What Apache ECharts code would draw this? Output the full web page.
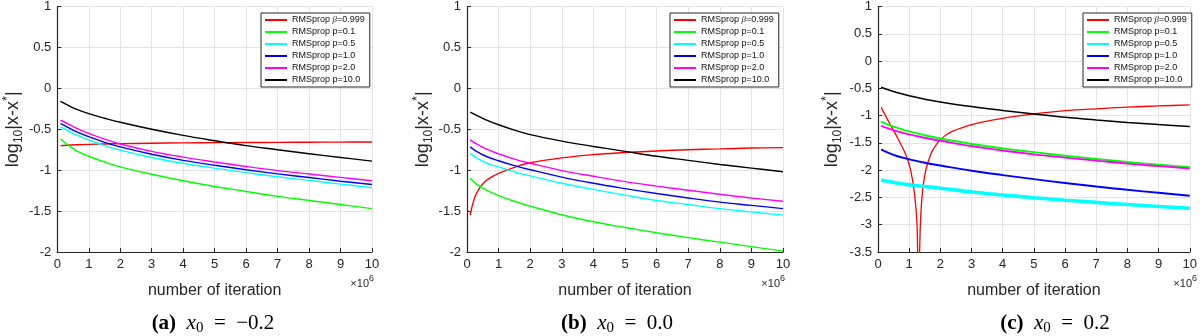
<!DOCTYPE html>
<html>
<head>
<meta charset="utf-8">
<script src="https://cdn.jsdelivr.net/npm/echarts@6/dist/echarts.min.js"></script>
<style>html,body{margin:0;padding:0;background:#fff;}#c{width:1200px;height:336px;}</style>
</head>
<body>
<div id="c"></div>
<script>
// iterations in units of 1e6
const iters = [0.1, 0.3, 0.6, 1, 1.5, 2, 3, 4, 5, 6, 7, 8, 9, 10];

// panel (a) x0 = -0.2
const aRed   = [-0.70, -0.695, -0.69, -0.685, -0.68, -0.676, -0.671, -0.667, -0.664, -0.662, -0.660, -0.658, -0.657, -0.656];
const aGreen = [-0.615, -0.68, -0.76, -0.83, -0.90, -0.96, -1.05, -1.13, -1.20, -1.26, -1.32, -1.37, -1.42, -1.47];
const aCyan  = [-0.47, -0.51, -0.57, -0.63, -0.70, -0.755, -0.845, -0.915, -0.975, -1.03, -1.08, -1.125, -1.17, -1.215];
const aBlue  = [-0.43, -0.47, -0.53, -0.59, -0.66, -0.715, -0.805, -0.88, -0.94, -0.995, -1.045, -1.09, -1.135, -1.175];
const aMag   = [-0.39, -0.425, -0.485, -0.55, -0.62, -0.68, -0.77, -0.84, -0.90, -0.955, -1.005, -1.047, -1.088, -1.13];
const aBlack = [-0.16, -0.20, -0.255, -0.31, -0.365, -0.415, -0.50, -0.575, -0.64, -0.70, -0.75, -0.80, -0.845, -0.89];

// panel (b) x0 = 0.0
const bRedX  = [0.1, 0.15, 0.2, 0.27, 0.35, 0.45, 0.6, 0.8, 1, 1.5, 2, 3, 4, 5, 6, 7, 8, 9, 10];
const bRed   = [-1.55, -1.46, -1.39, -1.31, -1.25, -1.19, -1.13, -1.08, -1.04, -0.965, -0.91, -0.85, -0.81, -0.785, -0.765, -0.75, -0.74, -0.73, -0.725];
const bGreen = [-1.10, -1.17, -1.24, -1.31, -1.38, -1.44, -1.545, -1.63, -1.70, -1.765, -1.825, -1.88, -1.935, -1.99];
const bCyan  = [-0.795, -0.85, -0.91, -0.96, -1.02, -1.07, -1.16, -1.235, -1.305, -1.37, -1.42, -1.47, -1.51, -1.55];
const bBlue  = [-0.715, -0.77, -0.83, -0.885, -0.945, -0.995, -1.085, -1.16, -1.225, -1.285, -1.34, -1.39, -1.43, -1.47];
const bMag   = [-0.63, -0.68, -0.74, -0.80, -0.865, -0.915, -1.005, -1.075, -1.14, -1.195, -1.245, -1.295, -1.34, -1.38];
const bBlack = [-0.29, -0.33, -0.385, -0.445, -0.51, -0.565, -0.645, -0.71, -0.77, -0.83, -0.88, -0.93, -0.975, -1.02];

// panel (c) x0 = 0.2
const cRedX  = [0.1, 0.37, 0.63, 0.84, 0.95, 1.05, 1.16, 1.25, 1.3, 1.36, 1.43, 1.53, 1.63, 1.74, 2.0, 2.38, 3.1, 4, 5, 6, 7, 8, 9, 10];
const cRed   = [-0.85, -1.14, -1.41, -1.65, -1.81, -2.01, -2.38, -2.98, -4.2, -2.98, -2.38, -2.01, -1.81, -1.65, -1.44, -1.29, -1.15, -1.05, -0.97, -0.91, -0.875, -0.845, -0.823, -0.805];
const cGreen = [-1.11, -1.16, -1.22, -1.29, -1.36, -1.42, -1.52, -1.60, -1.67, -1.735, -1.795, -1.85, -1.90, -1.945];
const cCyan  = [-2.18, -2.205, -2.235, -2.27, -2.30, -2.33, -2.40, -2.455, -2.505, -2.55, -2.59, -2.63, -2.665, -2.70];
const cBlue  = [-1.62, -1.675, -1.74, -1.80, -1.865, -1.915, -2.01, -2.09, -2.165, -2.235, -2.30, -2.36, -2.415, -2.47];
const cMag   = [-1.19, -1.23, -1.285, -1.345, -1.405, -1.46, -1.56, -1.64, -1.71, -1.77, -1.825, -1.88, -1.925, -1.97];
const cBlack = [-0.48, -0.52, -0.575, -0.635, -0.70, -0.75, -0.835, -0.905, -0.97, -1.03, -1.08, -1.125, -1.165, -1.20];

const seriesLabels = ['RMSprop β=0.999', 'RMSprop p=0.1', 'RMSprop p=0.5', 'RMSprop p=1.0', 'RMSprop p=2.0', 'RMSprop p=10.0'];
const colors = ['#ff0000', '#00ff00', '#00ffff', '#0000ff', '#ff00ff', '#000000'];
const yMins = [-2, -2, -3.5];
const yMax = 1;
const xTicksMax = 10;
const captions = [['(a)', '−0.2'], ['(b)', '0.0'], ['(c)', '0.2']];
const panelKeys = ['a', 'b', 'c'];

const panels = [
  {redX: iters, ys: [aRed, aGreen, aCyan, aBlue, aMag, aBlack], widths: [1.4, 1.4, 1.4, 1.4, 1.4, 1.4], redSmooth: 0.4},
  {redX: bRedX, ys: [bRed, bGreen, bCyan, bBlue, bMag, bBlack], widths: [1.4, 1.4, 1.4, 1.4, 1.4, 1.4], redSmooth: 0.4},
  {redX: cRedX, ys: [cRed, cGreen, cCyan, cBlue, cMag, cBlack], widths: [1.3, 1.9, 3.6, 1.9, 1.9, 1.5], redSmooth: 0.3}
];

// layout
const gridLefts = [56, 467, 878];
const gridWidths = [316, 316, 317];
const gridTop = 4, gridHeight = 248;
const legendLefts = [261, 670, 1083];
const captionCenters = [213, 617, 1055];
const FONT = '"Liberation Sans", Arial, Helvetica, sans-serif';
const SERIF = '"Liberation Serif", "DejaVu Serif", serif';
const AX = '#262626';

const grids = [], xAxes = [], yAxes = [], series = [], legends = [], titles = [];

panels.forEach((p, i) => {
  grids.push({left: gridLefts[i], top: gridTop, width: gridWidths[i], height: gridHeight});
  xAxes.push({
    type: 'value', gridIndex: i, min: 0, max: xTicksMax, interval: 1,
    axisLine: {show: true, onZero: false, lineStyle: {color: AX, width: 1.2}},
    axisTick: {show: true, inside: true, length: 4, lineStyle: {color: AX, width: 1}},
    axisLabel: {fontSize: 13, color: AX, margin: 6, fontFamily: FONT},
    splitLine: {show: true, lineStyle: {color: '#e4e4e4', width: 1}},
    name: 'number of iteration', nameLocation: 'middle', nameGap: 31,
    nameTextStyle: {fontSize: 16, color: AX, fontFamily: FONT}
  });
  yAxes.push({
    type: 'value', gridIndex: i, min: yMins[i], max: yMax, interval: 0.5,
    axisLine: {show: true, onZero: false, lineStyle: {color: AX, width: 1.2}},
    axisTick: {show: true, inside: true, length: 4, lineStyle: {color: AX, width: 1}},
    axisLabel: {fontSize: 13, color: AX, margin: 6, fontFamily: FONT},
    splitLine: {show: true, lineStyle: {color: '#e4e4e4', width: 1}},
    name: '{a|log}{s|10}{a||x-x}{p|*}{a||}', nameLocation: 'middle', nameRotate: 90,
    nameGap: i === 2 ? 34 : 31,
    nameTextStyle: {
      color: AX, fontFamily: FONT,
      rich: {
        a: {fontSize: 18, fontFamily: FONT, color: AX, lineHeight: 24},
        s: {fontSize: 12, fontFamily: FONT, color: AX, lineHeight: 13, verticalAlign: 'bottom'},
        p: {fontSize: 13, fontFamily: FONT, color: AX, lineHeight: 13, verticalAlign: 'top'}
      }
    }
  });
  const names = [];
  p.ys.forEach((ys, k) => {
    const xs = k === 0 ? p.redX : iters;
    const nm = panelKeys[i] + ':' + seriesLabels[k];
    names.push(nm);
    series.push({
      type: 'line', name: nm, xAxisIndex: i, yAxisIndex: i,
      data: xs.map((x, j) => [x, ys[j]]),
      showSymbol: false, symbol: 'none', smooth: k === 0 ? p.redSmooth : 0.4,
      lineStyle: {color: colors[k], width: p.widths[k]}, itemStyle: {color: colors[k]},
      clip: true, animation: false, z: 2 + k
    });
  });
  legends.push({
    orient: 'vertical', left: legendLefts[i], top: 13, data: names,
    itemWidth: 22, itemHeight: 10, itemGap: 2,
    itemStyle: {opacity: 0, borderWidth: 0},
    padding: [2, 5, 2, 3], borderColor: AX, borderWidth: 1, backgroundColor: '#fff',
    selectedMode: false,
    formatter: function (n) {
      const t = n.slice(2);
      if (t.indexOf('β') >= 0) {
        const parts = t.split('β');
        return '{t|' + parts[0] + '}{i|β}{t|' + parts[1] + '}';
      }
      return '{t|' + t + '}';
    },
    textStyle: {
      fontSize: 9, color: '#111', fontFamily: FONT, lineHeight: 10,
      rich: {
        t: {fontSize: 9, fontFamily: FONT, color: '#111', lineHeight: 10},
        i: {fontSize: 9, fontFamily: SERIF, fontStyle: 'italic', color: '#111', lineHeight: 10}
      }
    }
  });
  titles.push({
    text: '{n|×10}{p|6}', left: gridLefts[i] + gridWidths[i] + 2, top: 274, textAlign: 'right',
    padding: 0,
    textStyle: {
      fontWeight: 'normal',
      rich: {
        n: {fontSize: 11, fontFamily: FONT, fontWeight: 'normal', color: AX, lineHeight: 15, verticalAlign: 'bottom'},
        p: {fontSize: 9, fontFamily: FONT, fontWeight: 'normal', color: AX, lineHeight: 9, verticalAlign: 'top'}
      }
    }
  });
  titles.push({
    text: '{b|' + captions[i][0] + '}{n|  }{x|x}{s|0}{n|  =  ' + captions[i][1] + '}',
    left: captionCenters[i], top: 311, textAlign: 'center', padding: 0,
    textStyle: {
      fontWeight: 'normal',
      rich: {
        b: {fontSize: 21, fontFamily: SERIF, fontWeight: 'bold', color: '#000', lineHeight: 25},
        n: {fontSize: 21, fontFamily: SERIF, fontWeight: 'normal', color: '#000', lineHeight: 25},
        x: {fontSize: 21, fontFamily: SERIF, fontStyle: 'italic', fontWeight: 'normal', color: '#000', lineHeight: 25},
        s: {fontSize: 15, fontFamily: SERIF, fontWeight: 'normal', color: '#000', lineHeight: 19, verticalAlign: 'bottom'}
      }
    }
  });
});

const chart = echarts.init(document.getElementById('c'), null, {renderer: 'canvas'});
chart.setOption({
  animation: false,
  backgroundColor: '#fff',
  title: titles,
  grid: grids,
  xAxis: xAxes,
  yAxis: yAxes,
  legend: legends,
  series: series
});
</script>
</body>
</html>
